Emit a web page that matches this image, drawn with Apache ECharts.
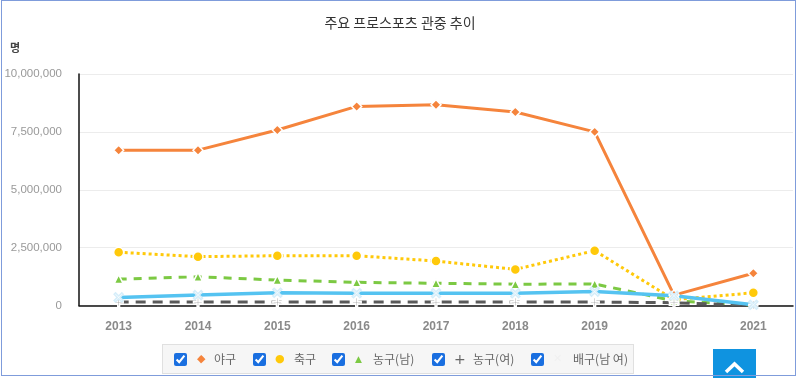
<!DOCTYPE html>
<html>
<head>
<meta charset="utf-8">
<script src="https://cdn.jsdelivr.net/npm/echarts@6/dist/echarts.min.js"></script>
<style>
  html, body { margin: 0; padding: 0; background: #fff; }
  #wrap { position: relative; width: 800px; height: 378px; overflow: hidden; font-family: "Noto Sans CJK KR", "Noto Sans", sans-serif; }
  #chart { position: absolute; left: 0; top: 0; width: 800px; height: 378px; }
  #frame { position: absolute; left: 1px; top: 0; width: 795px; height: 376px; box-sizing: border-box; border: 1.5px solid #7f9cdb; pointer-events: none; }
  #legend { position: absolute; left: 162px; top: 344px; width: 472px; height: 30px; box-sizing: border-box; background: #f6f6f6; border: 1px solid #e0e0e0; }
  .cb { position: absolute; top: 8px; width: 13px; height: 13px; margin: 0; accent-color: #1a6fe0; }
  .ic { position: absolute; top: 6px; font-family: "DejaVu Sans", sans-serif; font-size: 11px; line-height: 16px; }
  .tx { position: absolute; top: 6px; font-size: 12px; line-height: 16px; color: #666; }
  #btn { position: absolute; left: 713px; top: 349px; width: 43px; height: 29px; background: #0f93e0; }
</style>
</head>
<body>
<div id="wrap">
  <div id="chart"></div>
  <div id="legend"></div>
  <div id="btn"><svg width="43" height="29"><polyline points="13,23 21.5,15 30,23" fill="none" stroke="#fff" stroke-width="3.5"/></svg></div>
  <div id="frame"></div>
</div>
<script>
// ---- data ----
const years = ['2013', '2014', '2015', '2016', '2017', '2018', '2019', '2020', '2021'];
const baseball = [6710000, 6710000, 7580000, 8600000, 8670000, 8360000, 7500000, 450000, 1390000];
const soccer = [2300000, 2110000, 2150000, 2150000, 1920000, 1560000, 2370000, 250000, 550000];
const basketMen = [1140000, 1240000, 1100000, 1000000, 960000, 920000, 930000, 200000, 20000];
const basketWomen = [150000, 150000, 150000, 150000, 150000, 150000, 150000, 120000, 20000];
const volleyball = [350000, 450000, 550000, 530000, 530000, 530000, 600000, 420000, 30000];
const seriesNames = ['야구', '축구', '농구(남)', '농구(여)', '배구(남 여)'];
const yTicks = { min: 0, max: 10000000, interval: 2500000 };
const titleText = '주요 프로스포츠 관중 추이';
const unitText = '명';

const colors = ['#f5843c', '#ffc90a', '#7cc943', '#5a5a5a', '#55c3f1'];
const plusPath = 'path://M4,0 L6,0 L6,4 L10,4 L10,6 L6,6 L6,10 L4,10 L4,6 L0,6 L0,4 L4,4 Z';
const xPath = 'path://M1.5,0 L5,3.5 L8.5,0 L10,1.5 L6.5,5 L10,8.5 L8.5,10 L5,6.5 L1.5,10 L0,8.5 L3.5,5 L0,1.5 Z';

// ---- legend (HTML) ----
const legendItems = [
  { cb: 11, ic: 34, tx: 51, icon: '◆', col: colors[0] },
  { cb: 90, ic: 112, tx: 131, icon: '●', col: colors[1] },
  { cb: 169, ic: 192, tx: 210, icon: '▲', col: colors[2], fs: 9 },
  { cb: 269, ic: 291, tx: 310, icon: '+', col: '#666', fs: 14 },
  { cb: 368, ic: 390, tx: 410, icon: '✕', col: '#f0f0f0' }
];
const lg = document.getElementById('legend');
legendItems.forEach((it, i) => {
  const c = document.createElement('input');
  c.type = 'checkbox'; c.checked = true; c.className = 'cb'; c.style.left = it.cb + 'px';
  lg.appendChild(c);
  const s = document.createElement('span');
  s.className = 'ic'; s.textContent = it.icon; s.style.left = it.ic + 'px'; s.style.color = it.col;
  if (it.fs) s.style.fontSize = it.fs + 'px';
  lg.appendChild(s);
  const t = document.createElement('span');
  t.className = 'tx'; t.textContent = seriesNames[i]; t.style.left = it.tx + 'px';
  lg.appendChild(t);
});

// ---- chart ----
const chart = echarts.init(document.getElementById('chart'));
const fmt = v => v.toLocaleString('en-US');
function mk(i, data, lineType, width, symbol, size, symColor, symBorder) {
  return {
    name: seriesNames[i], type: 'line', data: data,
    symbol: symbol, symbolSize: size, showAllSymbol: true,
    lineStyle: { color: colors[i], width: width, type: lineType },
    itemStyle: { color: symColor || colors[i], borderColor: symBorder || '#fff', borderWidth: 1.5 },
    emphasis: { disabled: true }, animation: false
  };
}
chart.setOption({
  animation: false,
  title: { text: titleText, left: 'center', top: 11, textStyle: { fontSize: 14, fontWeight: 'normal', color: '#333', fontFamily: 'Noto Sans CJK KR' } },
  graphic: [{ type: 'text', left: 10, top: 42, style: { text: unitText, fontSize: 11, fontWeight: 'bold', fill: '#444', fontFamily: 'Noto Sans CJK KR' } }],
  grid: { left: 79, right: 7, top: 74, bottom: 72.5, containLabel: false },
  xAxis: {
    type: 'category', data: years, boundaryGap: true,
    axisLine: { lineStyle: { color: '#111', width: 1.5 } },
    axisTick: { show: false },
    axisLabel: { color: '#8a8a8a', fontSize: 12, fontWeight: 'bold', margin: 15, fontFamily: 'Liberation Sans' }
  },
  yAxis: {
    type: 'value', min: yTicks.min, max: yTicks.max, interval: yTicks.interval,
    axisLine: { show: true, lineStyle: { color: '#111', width: 1.5 } },
    axisTick: { show: false },
    splitLine: { lineStyle: { color: '#ececec', width: 1 } },
    axisLabel: { color: '#999', fontSize: 11.5, margin: 17, formatter: fmt, fontFamily: 'Liberation Sans' }
  },
  series: [
    mk(0, baseball, 'solid', 3, 'diamond', 10),
    mk(1, soccer, [3, 3], 3, 'circle', 10),
    mk(2, basketMen, [8, 7], 3, 'triangle', 9),
    mk(3, basketWomen, [10, 7], 3, plusPath, 9, '#7a7a7a', '#fff'),
    mk(4, volleyball, 'solid', 3.5, xPath, 9, '#ffffff', '#d6eefa')
  ]
});
</script>
</body>
</html>
